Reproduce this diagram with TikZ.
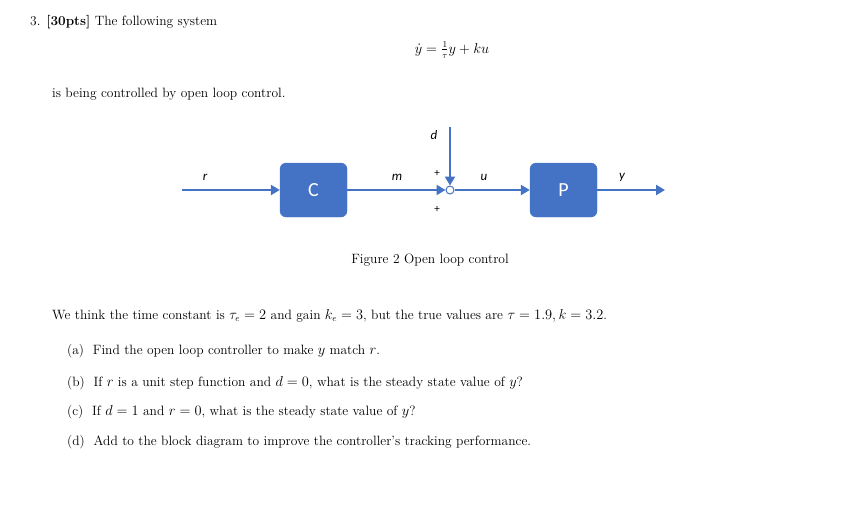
\documentclass[tikz,border=0pt]{standalone}
\usepackage{fontspec}
\newfontfamily\carl{Carlito}
\usetikzlibrary{arrows.meta}
\definecolor{bl}{HTML}{4472C4}
\begin{document}
\begin{tikzpicture}[x=1pt,y=-1pt,
  txt/.style={anchor=base west,inner sep=0,font=\fontsize{13.5}{16}\selectfont},
  blk/.style={draw=bl,fill=bl,rounded corners=6,minimum width=67,minimum height=54,inner sep=0,text=white,font=\carl\fontsize{20}{24}\selectfont},
  sig/.style={draw=bl,line width=2.2,-{Triangle[length=9,width=10]}},
  lab/.style={inner sep=0,font=\carl\itshape\fontsize{13}{15}\selectfont}]
\useasboundingbox (0,0) rectangle (865,522);
\node[txt] (t1) at (30,25) {3. \textbf{[30pts]} The following system};
\node[inner sep=0,font=\fontsize{13.5}{16}\selectfont] (eq) at (452,50) {$\dot y=\frac{1}{\tau}y+ku$};
\node[txt] (t2) at (52,97) {is being controlled by open loop control.};
\coordinate (rs) at (182,190);
\node[blk] (C) at (313.5,190) {C};
\node[draw=bl,fill=white,circle,inner sep=0,minimum size=8,line width=1] (s) at (450,190) {};
\node[blk] (P) at (563.5,190) {P};
\coordinate (ds) at (450,127);
\coordinate (ye) at (665,190);
\draw[sig] (rs) -- (C.west);
\draw[sig] (C.east) -- (s.west);
\draw[sig] (ds) -- (s.north);
\draw[sig] (s.east) -- (P.west);
\draw[sig] (P.east) -- (ye);
\node[lab] (lr) at (205,177) {r};
\node[lab] (lm) at (397,177) {m};
\node[lab] (ld) at (434,135) {d};
\node[lab] (lu) at (484,177) {u};
\node[lab] (ly) at (622,177) {y};
\node[inner sep=0,font=\carl\fontsize{11}{13}\selectfont] (p1) at (437,173) {+};
\node[inner sep=0,font=\carl\fontsize{11}{13}\selectfont] (p2) at (437,209) {+};
\node[anchor=base,inner sep=0,font=\fontsize{13.5}{16}\selectfont] (cap) at (430,263) {Figure 2 Open loop control};
\node[txt] (t3) at (52,319) {We think the time constant is $\tau_e=2$ and gain $k_e=3$, but the true values are $\tau=1.9, k=3.2$.};
\node[txt] (a) at (67,354) {(a)\ \ Find the open loop controller to make $y$ match $r$.};
\node[txt] (b) at (67,386) {(b)\ \ If $r$ is a unit step function and $d=0$, what is the steady state value of $y$?};
\node[txt] (c) at (67,415) {(c)\ \ If $d=1$ and $r=0$, what is the steady state value of $y$?};
\node[txt] (d) at (67,445) {(d)\ \ Add to the block diagram to improve the controller's tracking performance.};
\end{tikzpicture}
\end{document}
